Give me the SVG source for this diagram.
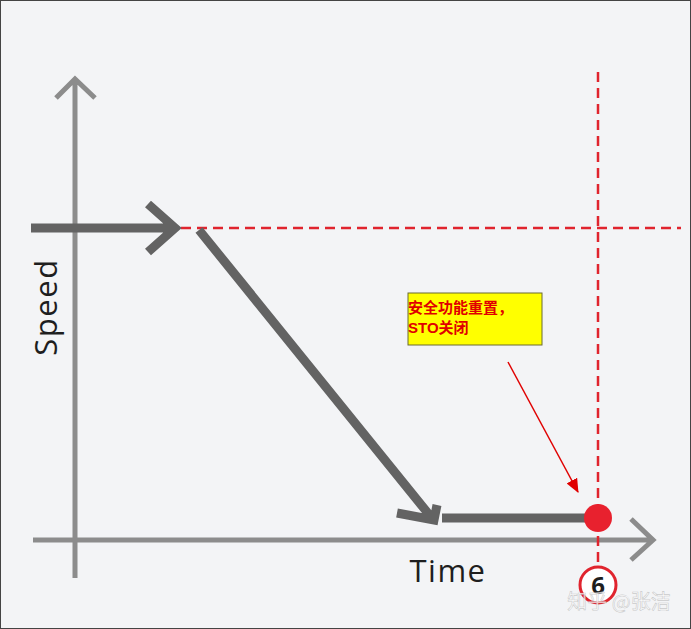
<svg xmlns="http://www.w3.org/2000/svg" width="691" height="629" viewBox="0 0 691 629">
<defs>
<style>
.axis{stroke:#8c8c8c;stroke-width:5;fill:none}
.curve{stroke:#636363;stroke-width:9;fill:none}
.dash{stroke:#e0242e;stroke-width:2.5;stroke-dasharray:10 6;fill:none}
.lbl{font-family:"Open Sans","Liberation Sans",sans-serif;font-size:31px;letter-spacing:1.5px;fill:#1e1e1e}
.note{font-family:"Liberation Sans","Noto Sans CJK SC",sans-serif;font-size:15px;font-weight:bold;fill:#e00000}
</style>
<marker id="ah" markerWidth="14" markerHeight="12" refX="13" refY="6" orient="auto" markerUnits="userSpaceOnUse">
<path d="M0,0 L14,6 L0,12 z" fill="#e00000"/>
</marker>
</defs>
<rect x="0.5" y="0.5" width="690" height="628" fill="#f3f4f6" stroke="#444" stroke-width="1"/>
<g id="axes">
<path class="axis" d="M75,578 V79 M56,98 L75,79 L95,98"/>
<path class="axis" d="M33,540 H653 M631,519 L653,540 L631,560"/>
</g>
<g id="connectors">
<path class="dash" d="M181,228 H681"/>
<path class="dash" d="M598,72 V568"/>
<path class="curve" d="M31,228 H174 M148,204 L175,228 L148,252"/>
<path class="curve" d="M199,230 L431,517 M437,505 L434,520 L397,513"/>
<path class="curve" d="M442,518 H590"/>
<path d="M508,362 L578,492" stroke="#e00000" stroke-width="1.5" fill="none" marker-end="url(#ah)"/>
</g>
<g id="labels">
<text class="lbl" transform="translate(57,307) rotate(-90)" text-anchor="middle">Speed</text>
<text class="lbl" x="448" y="582" text-anchor="middle">Time</text>
</g>
<g id="note">
<rect x="408" y="293" width="134" height="52" fill="#ffff00" stroke="#6b6b30" stroke-width="1"/>
<text class="note" x="408" y="313">安全功能重置，</text>
<text class="note" x="408" y="333">STO关闭</text>
</g>
<g id="point">
<circle cx="598" cy="518" r="14" fill="#e8212e"/>
</g>
<g id="marker6">
<circle cx="598" cy="585" r="18" fill="#ffffff" stroke="#e0242e" stroke-width="3"/>
<text x="598" y="594" text-anchor="middle" font-family="Open Sans, Liberation Sans, sans-serif" font-size="24" font-weight="bold" fill="#1e1e1e">6</text>
</g>
<text x="619" y="609" text-anchor="middle" font-family="Noto Sans CJK SC, sans-serif" font-size="20" fill="#ffffff" fill-opacity="0.75" stroke="#9a9a9a" stroke-opacity="0.5" stroke-width="0.6">知乎 @张洁</text>
</svg>
